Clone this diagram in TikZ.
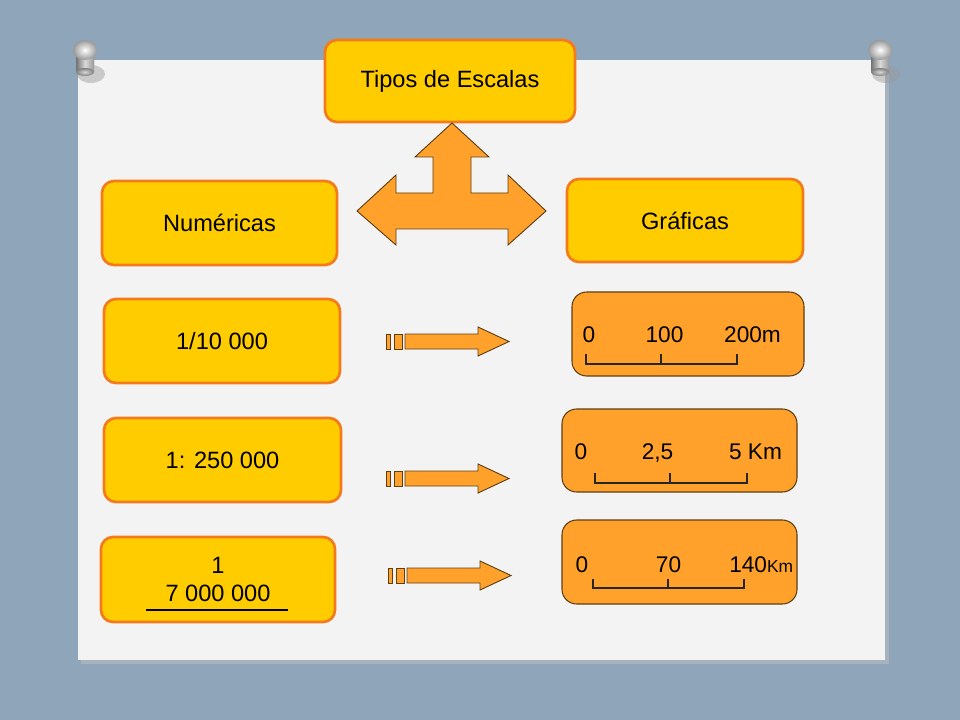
\documentclass[tikz,border=0pt]{standalone}
\usepackage{fontspec}
\setmainfont{Liberation Sans}
\usetikzlibrary{shadows}
\definecolor{bgblue}{HTML}{8FA5B9}
\definecolor{paper}{HTML}{F3F3F3}
\definecolor{gold}{HTML}{FFCC00}
\definecolor{goldedge}{HTML}{F47A1C}
\definecolor{orfill}{HTML}{FFA12B}
\definecolor{oredge}{HTML}{5E3F14}
\begin{document}
\begin{tikzpicture}[x=0.75pt,y=-0.75pt,
  goldbox/.style={draw=goldedge, fill=gold, line width=2pt, rounded corners=9pt,
    font=\fontsize{17.7}{21.4}\selectfont, align=center, inner sep=0pt},
  scalebox/.style={draw=oredge, fill=orfill, line width=0.8pt, rounded corners=11pt, inner sep=0pt},
  scaletxt/.style={anchor=base, inner sep=0pt, font=\fontsize{17}{20}\selectfont},
  bar/.style={line width=0.8pt, draw=black!85},
  arr/.style={draw=oredge, fill=orfill, line width=0.7pt, line join=miter}]
\useasboundingbox (0,0) rectangle (960,720);
% background
\fill[bgblue] (0,0) rectangle (960,720);
\fill[black!25, opacity=0.5] (81,63) rectangle (889,664);
\fill[paper] (78,60) rectangle (885,660);
% pins
\foreach \px in {85,880}{
  \fill[black!40, opacity=0.45] (\px+6,74) ellipse [x radius=14, y radius=9];
  \shade[left color=black!55, right color=black!40, middle color=white!80!black]
    (\px-9,51) rectangle (\px+9,72);
  \shade[inner color=black!15, outer color=black!50] (\px,72) ellipse [x radius=9, y radius=4];
  \shade[left color=black!55, right color=black!40, middle color=black!15]
    (\px-9,58) rectangle (\px+9,68);
  \shade[inner color=white, middle color=white!90!black, outer color=black!40] (\px,50) ellipse [x radius=12, y radius=10];
}
% gold boxes
\node[goldbox, minimum width=0.75*250pt, minimum height=0.75*82pt] (tipos) at (450,81) {Tipos de Escalas};
\node[goldbox, minimum width=0.75*235pt, minimum height=0.75*84pt] (num) at (219.5,223) {Numéricas};
\node[goldbox, minimum width=0.75*236pt, minimum height=0.75*83pt] (graf) at (685,220.5) {Gráficas};
\node[goldbox, minimum width=0.75*236pt, minimum height=0.75*84pt] (n1) at (222,341) {1/10 000};
\node[goldbox, minimum width=0.75*237pt, minimum height=0.75*84pt] (n2) at (222.5,460) {1: 250 000};
\node[goldbox, minimum width=0.75*234pt, minimum height=0.75*85pt] (n3) at (218,579.5) {1\\7 000 000};
\draw[line width=0.8pt] (146,610) coordinate (fl) -- (288,610) coordinate (fr);
% three-way arrow
\draw[arr] (452,123) -- (489,157) -- (471,157) -- (471,193) -- (508,193) -- (508,175)
  -- (546,211) -- (508,245) -- (508,229) -- (396,229) -- (396,245) -- (357,211)
  -- (396,175) -- (396,193) -- (433,193) -- (433,157) -- (415,157) -- cycle;
% small arrows
\foreach \dx/\dy in {0/0, 0/137, 2/234}{
  \begin{scope}[shift={(\dx,\dy)}]
    \draw[arr] (386,334) rectangle (390,349);
    \draw[arr] (394,334) rectangle (402,349);
    \draw[arr] (405,334) -- (478,334) -- (478,327) -- (509,341.5) -- (478,356) -- (478,349) -- (405,349) -- cycle;
  \end{scope}
}
% scale boxes
\node[scalebox, minimum width=0.75*232pt, minimum height=0.75*84pt] (g1) at (688,334) {};
\node[scalebox, minimum width=0.75*235pt, minimum height=0.75*83pt] (g2) at (679.5,450.5) {};
\node[scalebox, minimum width=0.75*235pt, minimum height=0.75*84pt] (g3) at (679.5,562) {};
% scale 1
\node[scaletxt] (g1a) at (589,342) {0};
\node[scaletxt] (g1b) at (664.5,342) {100};
\node[scaletxt] (g1c) at (752.5,342) {200m};
\draw[bar] (586,354) -- (586,364) -- (737,364) -- (737,354);
\draw[bar] (661,364) -- (661,354);
% scale 2
\node[scaletxt] (g2a) at (581,459) {0};
\node[scaletxt] (g2b) at (657.5,459) {2,5};
\node[scaletxt] (g2c) at (755.5,459) {5 Km};
\draw[bar] (595,473) -- (595,483) -- (747,483) -- (747,473);
\draw[bar] (670,483) -- (670,473);
% scale 3
\node[scaletxt] (g3a) at (582,572) {0};
\node[scaletxt] (g3b) at (668.5,572) {70};
\node[scaletxt, anchor=base west] (g3c) at (729,572) {140{\fontsize{13}{14}\selectfont Km}};
\draw[bar] (593,579) -- (593,588) -- (744,588) -- (744,579);
\draw[bar] (668,588) -- (668,579);
\end{tikzpicture}
\end{document}
